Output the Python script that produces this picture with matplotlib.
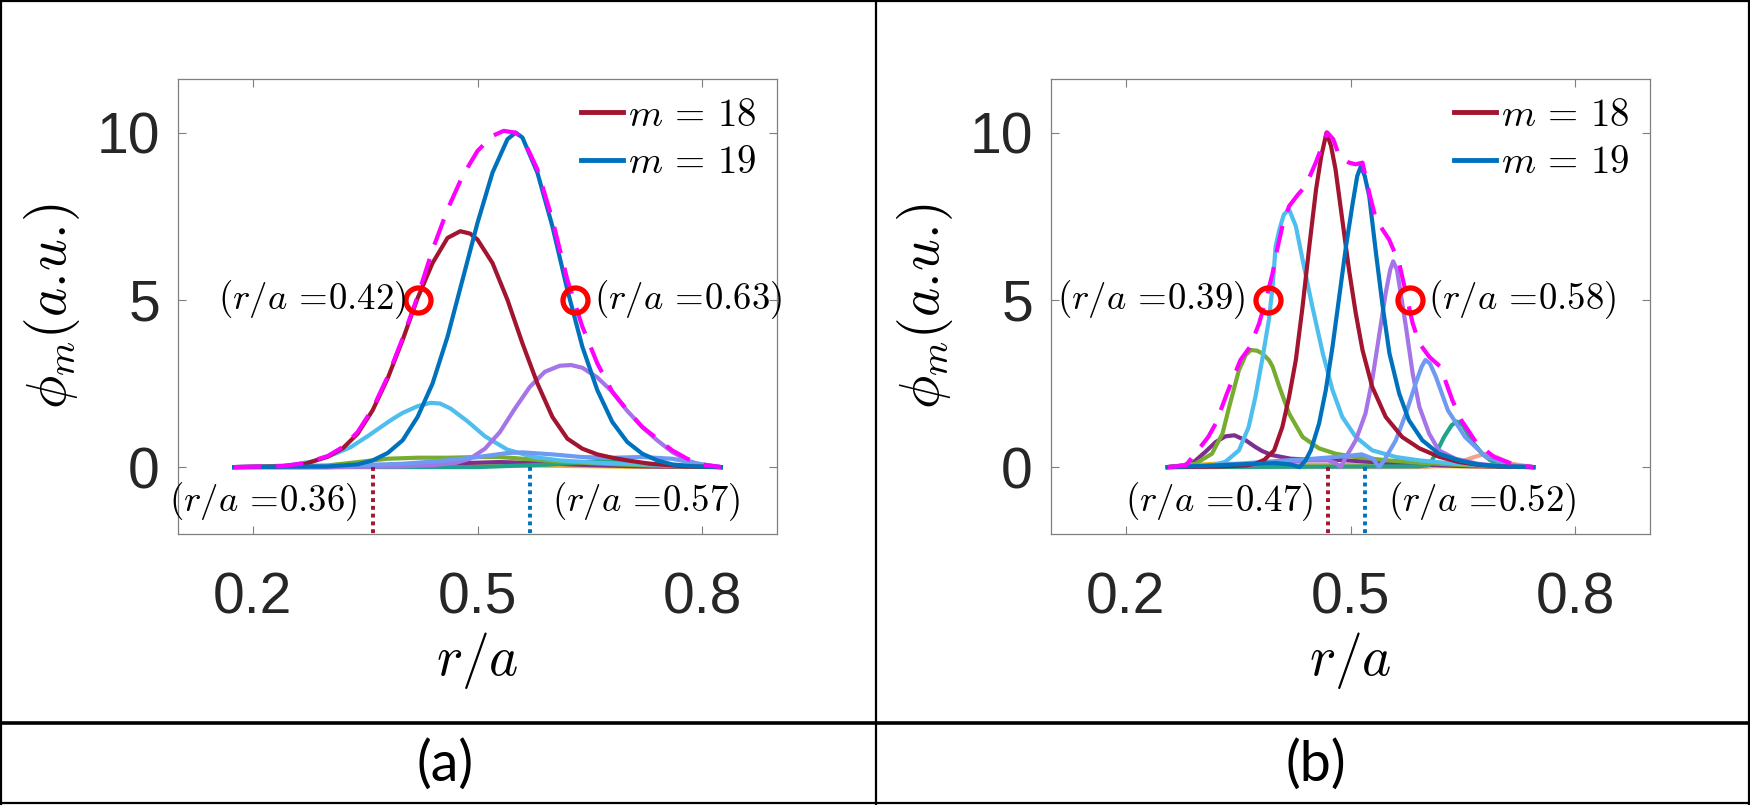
import matplotlib
matplotlib.use("Agg")
import matplotlib.pyplot as plt
from matplotlib.lines import Line2D

plt.rcParams["mathtext.fontset"] = "cm"
plt.rcParams["font.family"] = ["Liberation Sans", "DejaVu Sans"]

# ---------------- panel (a) ----------------
a_r18 = [0.175, 0.24, 0.27, 0.30, 0.32, 0.34, 0.36, 0.38, 0.40, 0.42, 0.44, 0.46, 0.477, 0.49,
         0.50, 0.52, 0.54, 0.56, 0.58, 0.60, 0.62, 0.64, 0.66, 0.68, 0.70, 0.73, 0.78, 0.825]
a_v18 = [0.0, 0.02, 0.1, 0.31, 0.56, 1.0, 1.7, 2.65, 3.8, 5.05, 6.1, 6.85, 7.05, 6.98,
         6.8, 6.1, 5.0, 3.7, 2.5, 1.5, 0.85, 0.55, 0.38, 0.28, 0.2, 0.1, 0.02, 0.0]

a_r19 = [0.175, 0.30, 0.34, 0.36, 0.38, 0.40, 0.42, 0.44, 0.46, 0.48, 0.50, 0.52, 0.54, 0.551,
         0.56, 0.58, 0.60, 0.62, 0.64, 0.66, 0.68, 0.70, 0.72, 0.74, 0.76, 0.79, 0.825]
a_v19 = [0.0, 0.02, 0.08, 0.2, 0.42, 0.8, 1.5, 2.5, 3.9, 5.6, 7.3, 8.8, 9.8, 10.0,
         9.85, 8.8, 7.2, 5.3, 3.6, 2.3, 1.35, 0.75, 0.4, 0.2, 0.08, 0.02, 0.0]

a_r_env = [0.175, 0.24, 0.27, 0.30, 0.32, 0.34, 0.36, 0.38, 0.40, 0.42, 0.44, 0.46, 0.48, 0.50,
           0.52, 0.535, 0.55, 0.56, 0.58, 0.60, 0.62, 0.64, 0.66, 0.68, 0.70, 0.72, 0.74, 0.76,
           0.78, 0.80, 0.825]
a_v_env = [0.0, 0.03, 0.12, 0.33, 0.6, 1.05, 1.75, 2.7, 3.85, 5.1, 6.5, 7.7, 8.7, 9.45,
           9.9, 10.05, 10.0, 9.85, 8.9, 7.4, 5.6, 4.2, 3.1, 2.25, 1.7, 1.2, 0.85, 0.5,
           0.25, 0.08, 0.0]

a_r_cyan = [0.175, 0.22, 0.25, 0.28, 0.31, 0.331, 0.355, 0.384, 0.40, 0.42, 0.437, 0.45, 0.464,
            0.486, 0.51, 0.54, 0.575, 0.61, 0.66, 0.72, 0.78, 0.825]
a_v_cyan = [0.0, 0.02, 0.06, 0.17, 0.4, 0.6, 0.95, 1.4, 1.62, 1.82, 1.92, 1.9, 1.75,
            1.38, 0.92, 0.52, 0.3, 0.2, 0.13, 0.08, 0.04, 0.0]

a_r_lav = [0.175, 0.30, 0.40, 0.44, 0.47, 0.49, 0.51, 0.53, 0.55, 0.57, 0.59, 0.61, 0.625, 0.64,
           0.66, 0.68, 0.70, 0.72, 0.74, 0.76, 0.78, 0.80, 0.825]
a_v_lav = [0.0, 0.0, 0.02, 0.06, 0.12, 0.25, 0.55, 1.05, 1.75, 2.4, 2.85, 3.03, 3.05, 2.97,
           2.68, 2.25, 1.68, 1.2, 0.8, 0.45, 0.2, 0.06, 0.0]

a_r_green = [0.175, 0.30, 0.34, 0.38, 0.42, 0.46, 0.50, 0.53, 0.56, 0.60, 0.65, 0.70, 0.76, 0.825]
a_v_green = [0.0, 0.05, 0.15, 0.25, 0.28, 0.28, 0.3, 0.3, 0.25, 0.18, 0.12, 0.07, 0.03, 0.0]

a_r_peri = [0.175, 0.30, 0.40, 0.45, 0.50, 0.54, 0.56, 0.60, 0.64, 0.68, 0.72, 0.76, 0.79, 0.825]
a_v_peri = [0.0, 0.03, 0.1, 0.18, 0.3, 0.42, 0.44, 0.38, 0.3, 0.28, 0.3, 0.25, 0.12, 0.0]

a_r_dpur = [0.175, 0.30, 0.40, 0.48, 0.53, 0.58, 0.65, 0.72, 0.825]
a_v_dpur = [0.0, 0.0, 0.05, 0.12, 0.15, 0.12, 0.06, 0.02, 0.0]

a_r_orng = [0.175, 0.30, 0.45, 0.52, 0.60, 0.70, 0.825]
a_v_orng = [0.0, 0.0, 0.03, 0.05, 0.04, 0.01, 0.0]

a_r_teal = [0.175, 0.50, 0.60, 0.66, 0.70, 0.76, 0.825]
a_v_teal = [0.0, 0.0, 0.08, 0.18, 0.15, 0.05, 0.0]

# ---------------- panel (b) ----------------
b_r18 = [0.256, 0.33, 0.36, 0.373, 0.385, 0.398, 0.409, 0.418, 0.427, 0.436, 0.445, 0.454, 0.461,
         0.468, 0.474, 0.48, 0.489, 0.498, 0.507, 0.516, 0.529, 0.547, 0.569, 0.592, 0.618, 0.645,
         0.67, 0.70, 0.744]
b_v18 = [0.0, 0.02, 0.05, 0.1, 0.22, 0.5, 1.2, 2.1, 3.2, 4.8, 6.6, 8.3, 9.3,
         10.0, 9.6, 8.9, 7.4, 5.9, 4.6, 3.5, 2.4, 1.5, 0.9, 0.56, 0.31, 0.15,
         0.07, 0.02, 0.0]

b_r19 = [0.256, 0.30, 0.35, 0.40, 0.42, 0.432, 0.44, 0.447, 0.458, 0.467, 0.476, 0.485, 0.494,
         0.503, 0.509, 0.514, 0.519, 0.525, 0.534, 0.543, 0.552, 0.565, 0.578, 0.596, 0.618,
         0.645, 0.67, 0.70, 0.744]
b_v19 = [0.0, 0.03, 0.08, 0.12, 0.08, 0.0, 0.2, 0.5, 1.3, 2.3, 3.6, 5.1, 6.6,
         7.9, 8.7, 9.0, 8.7, 8.1, 6.4, 4.8, 3.4, 2.2, 1.4, 0.8, 0.4,
         0.2, 0.08, 0.02, 0.0]

b_r_env = [0.256, 0.28, 0.296, 0.31, 0.32, 0.335, 0.353, 0.366, 0.378, 0.387, 0.396, 0.402, 0.41,
           0.418, 0.43, 0.44, 0.4536, 0.469, 0.477, 0.4848, 0.498, 0.507, 0.516, 0.525, 0.534,
           0.5516, 0.565, 0.574, 0.583, 0.592, 0.605, 0.62, 0.636, 0.648, 0.669, 0.692, 0.72, 0.744]
b_v_env = [0.0, 0.05, 0.5, 0.9, 1.3, 2.2, 3.2, 3.6, 4.3, 5.0, 5.8, 6.5, 7.3,
           7.8, 8.15, 8.4, 9.1, 10.0, 9.8, 9.3, 9.1, 9.05, 9.1, 8.2, 7.4,
           6.8, 6.1, 5.2, 4.3, 3.7, 3.3, 3.0, 2.0, 1.4, 0.7, 0.3, 0.06, 0.0]

b_r_cyan = [0.256, 0.29, 0.315, 0.333, 0.351, 0.364, 0.373, 0.382, 0.391, 0.396, 0.40, 0.405,
            0.411, 0.418, 0.427, 0.436, 0.449, 0.463, 0.476, 0.489, 0.507, 0.529, 0.561, 0.592,
            0.64, 0.70, 0.744]
b_v_cyan = [0.0, 0.02, 0.05, 0.16, 0.5, 1.2, 2.1, 3.2, 4.4, 5.4, 6.6, 7.1,
            7.55, 7.7, 7.2, 6.2, 4.8, 3.4, 2.3, 1.5, 0.9, 0.5, 0.3, 0.2,
            0.1, 0.03, 0.0]

b_r_green = [0.256, 0.27, 0.293, 0.315, 0.329, 0.338, 0.351, 0.36, 0.367, 0.375, 0.382, 0.391,
             0.396, 0.405, 0.418, 0.436, 0.458, 0.48, 0.507, 0.55, 0.60, 0.65, 0.70, 0.744]
b_v_green = [0.0, 0.03, 0.1, 0.4, 1.0, 1.8, 2.9, 3.35, 3.5, 3.48, 3.4, 3.2,
             3.0, 2.4, 1.6, 0.9, 0.56, 0.4, 0.3, 0.2, 0.12, 0.06, 0.02, 0.0]

b_r_dpur = [0.256, 0.275, 0.289, 0.306, 0.32, 0.333, 0.345, 0.36, 0.373, 0.382, 0.395, 0.42,
            0.45, 0.48, 0.51, 0.55, 0.60, 0.65, 0.744]
b_v_dpur = [0.0, 0.05, 0.12, 0.45, 0.75, 0.92, 0.95, 0.8, 0.6, 0.48, 0.36, 0.25,
            0.22, 0.22, 0.18, 0.12, 0.07, 0.03, 0.0]

b_r_lav = [0.256, 0.35, 0.40, 0.44, 0.47, 0.48, 0.487, 0.494, 0.507, 0.52, 0.529, 0.538, 0.547,
           0.553, 0.557, 0.562, 0.567, 0.574, 0.583, 0.592, 0.605, 0.618, 0.64, 0.67, 0.70, 0.744]
b_v_lav = [0.0, 0.05, 0.12, 0.2, 0.2, 0.12, 0.0, 0.3, 0.8, 1.6, 2.6, 3.9, 5.2,
           5.9, 6.15, 5.9, 5.2, 4.2, 2.8, 1.8, 1.0, 0.5, 0.25, 0.1, 0.03, 0.0]

b_r_peri = [0.256, 0.30, 0.35, 0.40, 0.45, 0.49, 0.515, 0.53, 0.538, 0.545, 0.5605, 0.574, 0.587,
            0.595, 0.60, 0.606, 0.614, 0.63, 0.653, 0.681, 0.72, 0.744]
b_v_peri = [0.0, 0.04, 0.1, 0.18, 0.25, 0.32, 0.38, 0.25, 0.0, 0.2, 0.8, 1.6, 2.5,
            3.0, 3.2, 3.1, 2.7, 1.7, 0.9, 0.3, 0.03, 0.0]

b_r_teal = [0.256, 0.55, 0.59, 0.605, 0.614, 0.625, 0.635, 0.642, 0.65, 0.664, 0.676, 0.687,
            0.71, 0.744]
b_v_teal = [0.0, 0.02, 0.02, 0.06, 0.4, 0.9, 1.25, 1.36, 1.25, 0.72, 0.4, 0.2, 0.05, 0.0]

b_r_salm = [0.256, 0.60, 0.64, 0.665, 0.681, 0.695, 0.715, 0.744]
b_v_salm = [0.0, 0.0, 0.1, 0.3, 0.4, 0.3, 0.1, 0.0]

b_r_orng = [0.256, 0.28, 0.32, 0.40, 0.50, 0.60, 0.744]
b_v_orng = [0.0, 0.05, 0.1, 0.08, 0.06, 0.03, 0.0]

# markers and labels
a_circles = [0.42, 0.63]
b_circles = [0.39, 0.58]
a_marks = [0.36, 0.57]
b_marks = [0.47, 0.52]

xticks = [0.2, 0.5, 0.8]
yticks = [0, 5, 10]

C18 = "#A2142F"
C19 = "#0072BD"
CCYAN = "#4DBEEE"
CGREEN = "#77AC30"
CDPUR = "#7E2F8E"
CORNG = "#EDB120"
CLAV = "#A574E6"
CPERI = "#6F9AF2"
CTEAL = "#1FA38A"
CSALM = "#F2A38C"
LW = 3.0


def rlabel(v):
    # "(r/a =0.42)" with no gap after the equals sign
    return r"$(r/a\,=\!%.2f)$" % v


def draw_panel(ax, curves, r18, v18, r19, v19, r_env, v_env, circles, marks, gaps):
    for r, v, c in curves:
        ax.plot(r, v, color=c, lw=LW)
    l18, = ax.plot(r18, v18, color=C18, lw=LW)
    l19, = ax.plot(r19, v19, color=C19, lw=LW)
    ax.plot(r_env, v_env, color="#FF00FF", lw=LW, linestyle=(0, (6.5, 3.6)))

    for x in circles:
        ax.plot([x], [5], "o", mfc="none", mec="#FF0000", ms=18, mew=3.8)
    ax.plot([marks[0], marks[0]], [0, -2], color=C18, lw=2.8, linestyle=(0, (1.0, 1.0)))
    ax.plot([marks[1], marks[1]], [0, -2], color=C19, lw=2.8, linestyle=(0, (1.0, 1.0)))

    fs = 26.5
    ax.text(circles[0] - gaps[0], 5, rlabel(circles[0]), ha="right", va="center", fontsize=fs)
    ax.text(circles[1] + gaps[1], 5, rlabel(circles[1]), ha="left", va="center", fontsize=fs)
    ax.text(marks[0] - 0.02, -1.03, rlabel(marks[0]), ha="right", va="center", fontsize=fs)
    ax.text(marks[1] + 0.03, -1.03, rlabel(marks[1]), ha="left", va="center", fontsize=fs)

    ax.set_xlim(0.1, 0.9)
    ax.set_ylim(-2, 11.6)
    ax.set_xticks(xticks)
    ax.set_xticklabels(["0.2", "0.5", "0.8"])
    ax.set_yticks(yticks)
    ax.tick_params(direction="in", length=6, width=0.8, color="#7f7f7f",
                   top=True, right=True, labelsize=41, labelcolor="#262626")
    ax.tick_params(axis="x", pad=27)
    ax.tick_params(axis="y", pad=13)
    for s in ax.spines.values():
        s.set_color("#7f7f7f")
        s.set_linewidth(0.9)
    ax.set_xlabel(r"$r/a$", fontsize=40)
    ax.set_ylabel(r"$\phi_m(a.\!u.\!)$", fontsize=40)
    ax.xaxis.set_label_coords(0.5, -0.21)
    ax.yaxis.set_label_coords(-0.16, 0.5)

    leg = ax.legend([l18, l19], [r"$m\,=\,18$", r"$m\,=\,19$"], loc="upper right",
                    bbox_to_anchor=(1.005, 1.01), frameon=False, fontsize=28,
                    handlelength=1.1, handletextpad=0.12, labelspacing=0.3,
                    borderaxespad=0.2)
    for h in leg.legend_handles:
        h.set_linewidth(3.5)


def main():
    fig = plt.figure(figsize=(17.5, 8.05), dpi=100)
    W, H = 1750.0, 805.0
    ax_a = fig.add_axes([178 / W, 1 - 534 / H, 599 / W, 455 / H])
    ax_b = fig.add_axes([1051 / W, 1 - 534 / H, 599 / W, 455 / H])

    curves_a = [(a_r_orng, a_v_orng, CORNG), (a_r_dpur, a_v_dpur, CDPUR),
                (a_r_teal, a_v_teal, CTEAL), (a_r_green, a_v_green, CGREEN),
                (a_r_cyan, a_v_cyan, CCYAN), (a_r_lav, a_v_lav, CLAV),
                (a_r_peri, a_v_peri, CPERI)]
    curves_b = [(b_r_orng, b_v_orng, CORNG), (b_r_salm, b_v_salm, CSALM),
                (b_r_dpur, b_v_dpur, CDPUR), (b_r_teal, b_v_teal, CTEAL),
                (b_r_green, b_v_green, CGREEN), (b_r_cyan, b_v_cyan, CCYAN),
                (b_r_lav, b_v_lav, CLAV), (b_r_peri, b_v_peri, CPERI)]

    draw_panel(ax_a, curves_a, a_r18, a_v18, a_r19, a_v19, a_r_env, a_v_env,
               a_circles, a_marks, (0.015, 0.026))
    draw_panel(ax_b, curves_b, b_r18, b_v18, b_r19, b_v19, b_r_env, b_v_env,
               b_circles, b_marks, (0.03, 0.024))

    # table frame around the two panels
    def hline(y, lw):
        fig.add_artist(Line2D([0, 1], [1 - y / H, 1 - y / H], color="black", lw=lw,
                              transform=fig.transFigure))

    def vline(x, lw):
        fig.add_artist(Line2D([x / W, x / W], [0, 1], color="black", lw=lw,
                              transform=fig.transFigure))

    hline(1.0, 1.6)
    hline(723, 2.6)
    hline(803, 1.6)
    vline(1.0, 1.6)
    vline(875.5, 1.6)
    vline(1748.5, 1.6)

    fig.text(445 / W, 1 - 765 / H, "(a)", ha="center", va="center", fontsize=40, family="Lato")
    fig.text(1316 / W, 1 - 765 / H, "(b)", ha="center", va="center", fontsize=40, family="Lato")

    fig.savefig("out.png", dpi=100)


if __name__ == "__main__":
    main()
